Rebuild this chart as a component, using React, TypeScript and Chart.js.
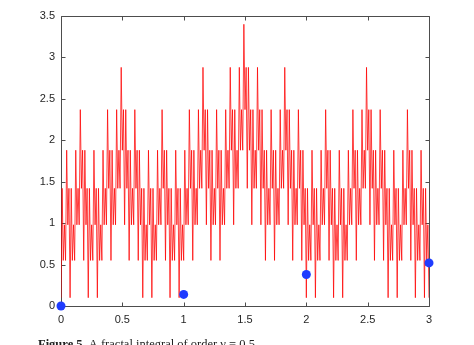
import { useEffect, useRef } from "react";
import { Chart, registerables } from "chart.js";

Chart.register(...registerables);

// Height levels (index -> value)
const LEVELS = [0.1, 0.55, 0.98, 1.42, 1.88, 2.37, 2.88, 3.4];

// Level index of each sample, one string per unit interval (4 samples per 1/27 block)
const UNIT_0 =
  "0312 1423 0312 1423 2534 1423 0312 1423 0312 " +
  "1423 2534 1423 2534 3645 2534 1423 2534 1423 " +
  "0312 1423 0312 1423 2534 1423 0312 1423 0312";
const UNIT_1 =
  "1423 2534 1423 2534 3645 2534 1423 2534 1423 " +
  "2534 3645 2534 3645 4756 3645 2534 3645 2534 " +
  "1423 2534 1423 2534 3645 2534 1423 2534 1423";
const UNIT_2 =
  "0312 1423 0312 1423 2534 1423 0312 1423 0312 " +
  "1423 2534 1423 2534 3645 2534 1423 2534 1423 " +
  "0312 1423 0312 1423 2534 1423 0312 1423 0312";
const END_LEVEL = "0";
const SAMPLES_PER_UNIT = 108;

const X_TICKS = [0, 0.5, 1, 1.5, 2, 2.5, 3];
const Y_TICKS = [0, 0.5, 1, 1.5, 2, 2.5, 3, 3.5];

const MARK_X = [0, 1, 2, 3];
const MARK_Y = [0, 0.14, 0.38, 0.52];

const CAPTION_BOLD = "Figure 5.";
const CAPTION_REST = " A fractal integral of order \u03BD = 0.5";

export default function App() {
  const ref = useRef<HTMLCanvasElement | null>(null);

  useEffect(() => {
    document.body.style.margin = "0";
    const canvas = ref.current;
    if (!canvas) return;

    const digits = (UNIT_0 + UNIT_1 + UNIT_2 + END_LEVEL).replace(/\s/g, "").split("");
    const curve = digits.map((d, i) => ({ x: i / SAMPLES_PER_UNIT, y: LEVELS[Number(d)] }));
    const marks = MARK_X.map((x, i) => ({ x, y: MARK_Y[i] }));

    const frame = {
      id: "frame",
      beforeDatasetsDraw(chart: any) {
        const { ctx, chartArea: a, scales } = chart;
        const x = scales.x;
        const y = scales.y;
        ctx.save();
        ctx.strokeStyle = "#4d4d4d";
        ctx.lineWidth = 1;
        ctx.beginPath();
        const L = Math.round(a.left) + 0.5;
        const R = Math.round(a.right) + 0.5;
        const T = Math.round(a.top) + 0.5;
        const B = Math.round(a.bottom) + 0.5;
        ctx.moveTo(L, T);
        ctx.lineTo(R, T);
        ctx.lineTo(R, B);
        ctx.lineTo(L, B);
        ctx.closePath();
        const tl = 4;
        X_TICKS.forEach((v) => {
          const px = Math.round(x.getPixelForValue(v)) + 0.5;
          ctx.moveTo(px, B);
          ctx.lineTo(px, B - tl);
          ctx.moveTo(px, T);
          ctx.lineTo(px, T + tl);
        });
        Y_TICKS.forEach((v) => {
          const py = Math.round(y.getPixelForValue(v)) + 0.5;
          ctx.moveTo(L, py);
          ctx.lineTo(L + tl, py);
          ctx.moveTo(R, py);
          ctx.lineTo(R - tl, py);
        });
        ctx.stroke();
        ctx.restore();
      },
      afterDraw(chart: any) {
        const { ctx } = chart;
        ctx.save();
        ctx.fillStyle = "#222";
        ctx.textBaseline = "alphabetic";
        ctx.font = 'bold 12.5px "Liberation Serif"';
        ctx.fillText(CAPTION_BOLD, 38, 348);
        const w = ctx.measureText(CAPTION_BOLD).width;
        ctx.font = '12.5px "Liberation Serif"';
        ctx.fillText(CAPTION_REST, 38 + w, 348);
        ctx.restore();
      },
    };

    const tickFont = { family: '"Liberation Sans", Arial, sans-serif', size: 11 };

    const chart = new Chart(canvas, {
      type: "line",
      data: {
        datasets: [
          {
            type: "scatter",
            data: marks,
            backgroundColor: "#1f3cff",
            borderWidth: 0,
            pointRadius: 4.5,
            clip: false,
            order: 0,
          } as any,
          {
            data: curve,
            borderColor: "rgb(255,0,0)",
            borderWidth: 0.75,
            pointRadius: 0,
            tension: 0,
            fill: false,
            order: 1,
          },
        ],
      },
      options: {
        responsive: false,
        animation: false,
        devicePixelRatio: 1,
        events: [],
        layout: { padding: { left: 0, top: 16, right: 45, bottom: 0 } },
        plugins: { legend: { display: false }, tooltip: { enabled: false } },
        scales: {
          x: {
            type: "linear",
            min: 0,
            max: 3,
            grid: { display: false, drawTicks: false },
            border: { display: false },
            afterBuildTicks: (s: any) => {
              s.ticks = X_TICKS.map((v) => ({ value: v }));
            },
            afterFit: (s: any) => {
              s.height = 39;
            },
            ticks: {
              padding: 7,
              color: "#262626",
              font: tickFont,
              callback: (v: any) => String(v),
              maxRotation: 0,
            },
          },
          y: {
            type: "linear",
            min: 0,
            max: 3.5,
            grid: { display: false, drawTicks: false },
            border: { display: false },
            afterBuildTicks: (s: any) => {
              s.ticks = Y_TICKS.map((v) => ({ value: v }));
            },
            afterFit: (s: any) => {
              s.width = 61;
            },
            ticks: {
              padding: 6,
              color: "#262626",
              font: tickFont,
              callback: (v: any) => String(v),
            },
          },
        },
      },
      plugins: [frame],
    });

    return () => chart.destroy();
  }, []);

  return <canvas ref={ref} width={474} height={345} style={{ display: "block" }} />;
}
